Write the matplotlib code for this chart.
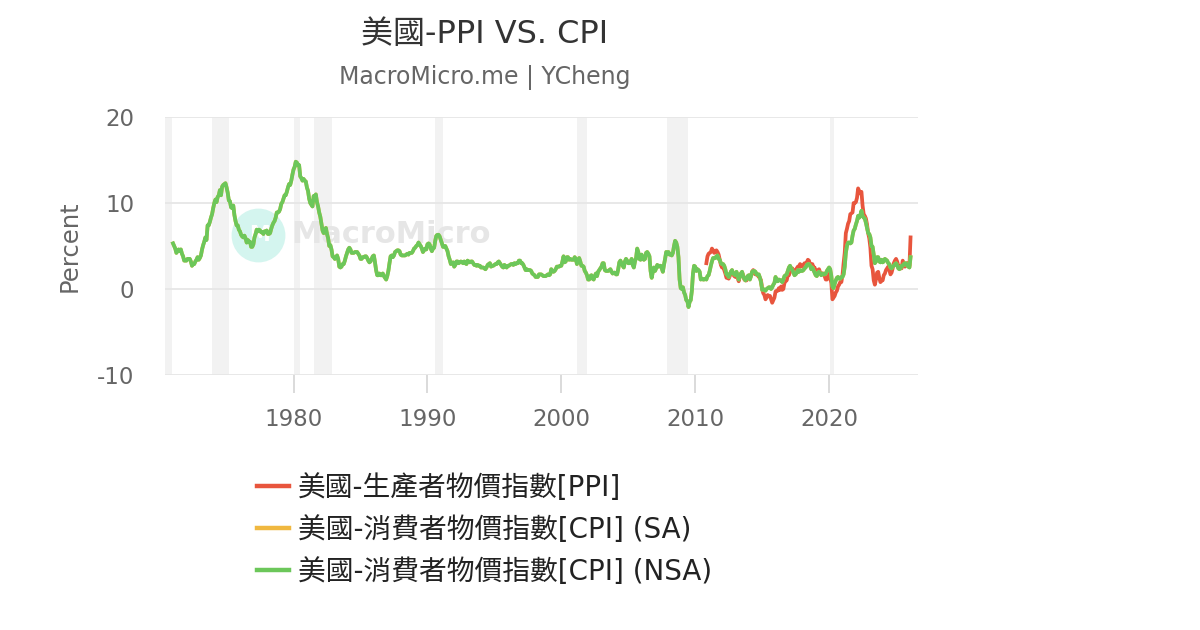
import numpy as np
import matplotlib.pyplot as plt
from matplotlib.lines import Line2D

plt.rcParams['font.family'] = ['DejaVu Sans', 'Noto Sans CJK TC']

# CPI YoY (NSA), mensual desde 1971-01
cpi_nsa = [
    5.3, 5.0, 4.7, 4.2, 4.4, 4.6, 4.4, 4.6, 4.1, 3.8, 3.3, 3.3,   # 1971
    3.3, 3.5, 3.5, 3.5, 3.2, 2.7, 2.9, 2.9, 3.2, 3.4, 3.7, 3.4,   # 1972
    3.6, 3.9, 4.6, 5.1, 5.5, 6.0, 5.7, 7.4, 7.4, 7.8, 8.3, 8.7,   # 1973
    9.4, 10.0, 10.4, 10.1, 10.7, 10.9, 11.5, 10.9, 11.9, 12.1, 12.2, 12.3,  # 1974
    11.8, 11.2, 10.3, 10.2, 9.5, 9.4, 9.7, 8.6, 7.9, 7.4, 7.4, 6.9,  # 1975
    6.7, 6.3, 6.1, 6.0, 6.2, 5.9, 5.4, 5.7, 5.5, 5.5, 4.9, 4.9,   # 1976
    5.2, 6.0, 6.4, 6.9, 6.7, 6.9, 6.8, 6.6, 6.6, 6.4, 6.7, 6.7,   # 1977
    6.8, 6.4, 6.4, 6.5, 7.0, 7.4, 7.7, 7.9, 8.3, 8.9, 8.9, 9.0,   # 1978
    9.3, 9.9, 10.1, 10.5, 10.9, 10.9, 11.3, 11.8, 12.2, 12.1, 12.6, 13.3,  # 1979
    13.9, 14.2, 14.8, 14.7, 14.4, 14.4, 13.1, 12.9, 12.6, 12.8, 12.6, 12.5,  # 1980
    11.8, 11.4, 10.5, 10.0, 9.8, 9.6, 10.8, 10.8, 11.0, 10.1, 9.6, 8.9,  # 1981
    8.4, 7.6, 6.8, 6.5, 6.7, 7.1, 6.4, 5.9, 5.0, 5.1, 4.6, 3.8,   # 1982
    3.7, 3.5, 3.6, 3.9, 3.5, 2.6, 2.5, 2.6, 2.9, 2.9, 3.3, 3.8,   # 1983
    4.2, 4.6, 4.8, 4.6, 4.2, 4.2, 4.2, 4.3, 4.3, 4.3, 4.1, 3.9,   # 1984
    3.5, 3.5, 3.7, 3.7, 3.8, 3.8, 3.6, 3.3, 3.1, 3.2, 3.5, 3.8,   # 1985
    3.9, 3.1, 2.2, 1.6, 1.6, 1.8, 1.6, 1.6, 1.8, 1.5, 1.3, 1.1,   # 1986
    1.5, 2.1, 3.0, 3.8, 3.9, 3.7, 3.9, 4.3, 4.4, 4.5, 4.5, 4.4,   # 1987
    4.0, 3.9, 3.9, 3.9, 3.9, 4.0, 4.1, 4.0, 4.2, 4.2, 4.2, 4.4,   # 1988
    4.7, 4.8, 5.0, 5.1, 5.4, 5.2, 5.0, 4.7, 4.3, 4.5, 4.7, 4.6,   # 1989
    5.2, 5.3, 5.2, 4.7, 4.4, 4.7, 4.8, 5.6, 6.2, 6.3, 6.3, 6.1,   # 1990
    5.7, 5.3, 4.9, 4.9, 5.0, 4.7, 4.4, 3.8, 3.4, 2.9, 3.0, 3.1,   # 1991
    2.6, 2.8, 3.2, 3.2, 3.0, 3.1, 3.2, 3.1, 3.0, 3.2, 3.0, 2.9,   # 1992
    3.3, 3.2, 3.1, 3.2, 3.2, 3.0, 2.8, 2.8, 2.7, 2.8, 2.7, 2.7,   # 1993
    2.5, 2.5, 2.5, 2.4, 2.3, 2.5, 2.8, 2.9, 3.0, 2.6, 2.7, 2.7,   # 1994
    2.8, 2.9, 2.9, 3.1, 3.2, 3.0, 2.8, 2.6, 2.5, 2.8, 2.6, 2.5,   # 1995
    2.7, 2.7, 2.8, 2.9, 2.9, 2.8, 3.0, 2.9, 3.0, 3.0, 3.3, 3.3,   # 1996
    3.0, 3.0, 2.8, 2.5, 2.2, 2.3, 2.2, 2.2, 2.2, 2.1, 1.8, 1.7,   # 1997
    1.6, 1.4, 1.4, 1.4, 1.7, 1.7, 1.7, 1.6, 1.5, 1.5, 1.5, 1.6,   # 1998
    1.7, 1.6, 1.7, 2.3, 2.1, 2.0, 2.1, 2.3, 2.6, 2.6, 2.6, 2.7,   # 1999
    2.7, 3.2, 3.8, 3.1, 3.2, 3.7, 3.7, 3.4, 3.5, 3.4, 3.4, 3.4,   # 2000
    3.7, 3.5, 2.9, 3.3, 3.6, 3.2, 2.7, 2.7, 2.6, 2.1, 1.9, 1.6,   # 2001
    1.1, 1.1, 1.5, 1.6, 1.2, 1.1, 1.5, 1.8, 1.5, 2.0, 2.2, 2.4,   # 2002
    2.6, 3.0, 3.0, 2.2, 2.1, 2.1, 2.1, 2.2, 2.3, 2.0, 1.8, 1.9,   # 2003
    1.9, 1.7, 1.7, 2.3, 3.1, 3.3, 3.0, 2.7, 2.5, 3.2, 3.5, 3.3,   # 2004
    3.0, 3.0, 3.1, 3.5, 2.8, 2.5, 3.2, 3.6, 4.7, 4.3, 3.5, 3.4,   # 2005
    4.0, 3.6, 3.4, 3.5, 4.2, 4.3, 4.1, 3.8, 2.1, 1.3, 2.0, 2.5,   # 2006
    2.1, 2.4, 2.8, 2.6, 2.7, 2.7, 2.4, 2.0, 2.8, 3.5, 4.3, 4.1,   # 2007
    4.3, 4.0, 4.0, 3.9, 4.2, 5.0, 5.6, 5.4, 4.9, 3.7, 1.1, 0.1,   # 2008
    0.0, 0.2, -0.4, -0.7, -1.3, -1.4, -2.1, -1.5, -1.3, -0.2, 1.8, 2.7,  # 2009
    2.6, 2.1, 2.3, 2.2, 2.0, 1.1, 1.2, 1.1, 1.1, 1.2, 1.1, 1.5,   # 2010
    1.6, 2.1, 2.7, 3.2, 3.6, 3.6, 3.6, 3.8, 3.9, 3.5, 3.4, 3.0,   # 2011
    2.9, 2.9, 2.7, 2.3, 1.7, 1.7, 1.4, 1.7, 2.0, 2.2, 1.8, 1.7,   # 2012
    1.6, 2.0, 1.5, 1.1, 1.4, 1.8, 2.0, 1.5, 1.2, 1.0, 1.2, 1.5,   # 2013
    1.6, 1.1, 1.5, 2.0, 2.1, 2.1, 2.0, 1.7, 1.7, 1.7, 1.3, 0.8,   # 2014
    -0.1, 0.0, -0.1, -0.2, 0.0, 0.1, 0.2, 0.2, 0.0, 0.2, 0.5, 0.7,  # 2015
    1.4, 1.0, 0.9, 1.1, 1.0, 1.0, 0.8, 1.1, 1.5, 1.6, 1.7, 2.1,   # 2016
    2.5, 2.7, 2.4, 2.2, 1.9, 1.6, 1.7, 1.9, 2.2, 2.0, 2.2, 2.1,   # 2017
    2.1, 2.2, 2.4, 2.5, 2.8, 2.9, 2.9, 2.7, 2.3, 2.5, 2.2, 1.9,   # 2018
    1.6, 1.5, 1.9, 2.0, 1.8, 1.6, 1.8, 1.7, 1.7, 1.8, 2.1, 2.3,   # 2019
    2.5, 2.3, 1.5, 0.3, 0.1, 0.6, 1.0, 1.3, 1.4, 1.2, 1.2, 1.4,   # 2020
    1.4, 1.7, 2.6, 4.2, 5.0, 5.4, 5.4, 5.3, 5.4, 6.2, 6.8, 7.0,   # 2021
    7.5, 7.9, 8.5, 8.3, 8.6, 9.1, 8.5, 8.3, 8.2, 7.7, 7.1, 6.5,   # 2022
    6.4, 6.0, 5.0, 4.9, 4.0, 3.0, 3.2, 3.7, 3.7, 3.2, 3.1, 3.4,   # 2023
    3.1, 3.2, 3.5, 3.4, 3.3, 3.0, 2.9, 2.5, 2.4, 2.6, 2.7, 2.9,   # 2024
    3.0, 2.8, 2.4, 2.3, 2.4, 2.7, 2.7, 2.9, 3.0, 3.0, 2.7, 2.6,   # 2025
    2.5, 3.7,                                                     # 2026
]
cpi_start = 1971

# CPI YoY (SA): casi igual a la NSA en variación anual
cpi_sa = list(cpi_nsa)

# PPI YoY (demanda final), mensual desde 2010-11
ppi = [
    3.0, 3.8,                                                     # 2010
    4.1, 4.2, 4.3, 4.7, 4.5, 4.2, 4.3, 4.5, 4.3, 4.0, 3.4, 2.8,   # 2011
    2.5, 2.6, 2.2, 1.8, 1.3, 1.3, 1.2, 1.5, 2.0, 2.1, 1.7, 1.5,   # 2012
    1.4, 1.7, 1.3, 0.9, 1.5, 1.8, 1.9, 1.6, 1.1, 1.0, 1.0, 1.3,   # 2013
    1.3, 1.4, 1.5, 2.0, 2.2, 1.8, 1.7, 1.7, 1.6, 1.4, 1.3, 1.0,   # 2014
    0.0, -0.5, -0.7, -1.2, -1.0, -0.7, -0.8, -0.8, -1.2, -1.6, -1.3, -1.0,  # 2015
    -0.3, -0.2, -0.2, 0.1, -0.1, 0.3, -0.1, 0.0, 0.7, 0.9, 1.0, 1.6,  # 2016
    1.6, 2.0, 2.3, 2.4, 2.2, 2.1, 2.0, 2.4, 2.6, 2.6, 2.9, 2.7,   # 2017
    2.6, 2.8, 3.0, 2.6, 3.1, 3.4, 3.3, 2.8, 2.6, 2.9, 2.5, 2.5,   # 2018
    2.0, 1.8, 2.2, 2.3, 1.9, 1.7, 1.8, 1.8, 1.5, 1.1, 1.1, 1.3,   # 2019
    2.1, 1.3, 0.7, -1.2, -1.0, -0.8, -0.4, -0.2, 0.3, 0.5, 0.8, 0.8,  # 2020
    1.6, 3.0, 4.2, 6.5, 7.0, 7.6, 7.9, 8.7, 8.8, 8.9, 10.0, 10.0,  # 2021
    10.1, 10.6, 11.7, 11.4, 11.1, 11.3, 9.7, 8.7, 8.5, 8.2, 7.5, 6.5,  # 2022
    5.9, 4.8, 2.7, 2.3, 1.0, 0.5, 1.1, 1.9, 2.0, 1.3, 0.8, 1.0,   # 2023
    1.0, 1.6, 1.8, 2.2, 2.4, 2.6, 2.2, 1.7, 1.9, 2.4, 3.0, 3.3,   # 2024
    3.5, 3.2, 2.7, 2.5, 2.7, 2.4, 3.3, 2.7, 2.6, 2.8, 3.0, 2.8,   # 2025
    2.7, 6.0,                                                     # 2026
]
ppi_start = 2010 + 10 / 12

# Recesiones (años decimales)
rec_inicio = [1969.9, 1973.9, 1980.0, 1981.5, 1990.55, 2001.2, 2007.9, 2020.05]
rec_fin = [1970.9, 1975.2, 1980.5, 1982.9, 1991.2, 2001.9, 2009.45, 2020.35]

x_ticks = [1980, 1990, 2000, 2010, 2020]
y_ticks = [-10, 0, 10, 20]

labels = ['美國-生產者物價指數[PPI]', '美國-消費者物價指數[CPI] (SA)', '美國-消費者物價指數[CPI] (NSA)']
colores = ['#e8553d', '#f0b840', '#6cc75a']

x_cpi = cpi_start + np.arange(len(cpi_nsa)) / 12
x_ppi = ppi_start + np.arange(len(ppi)) / 12

fig = plt.figure(figsize=(12, 6.3), dpi=100)
ax = fig.add_axes([165 / 1200, 1 - 375 / 630, 753 / 1200, 258 / 630])

for a, b in zip(rec_inicio, rec_fin):
    ax.axvspan(a, b, color='#f2f2f2', lw=0, zorder=0)

for yv in y_ticks:
    ax.axhline(yv, color='#e6e6e6', lw=1.3, zorder=1)

# marca de agua
ax.scatter([0.1235], [0.543], s=1500, color='#d4f5ef', transform=ax.transAxes, zorder=1, lw=0)
ax.text(0.125, 0.543, 'M', transform=ax.transAxes, color='white', fontsize=15, fontweight='bold',
        ha='center', va='center', zorder=1)
ax.text(0.168, 0.543, 'MacroMicro', transform=ax.transAxes, color='#e6e6e6', fontsize=22,
        fontweight='bold', ha='left', va='center', zorder=1)

ax.plot(x_ppi, ppi, color=colores[0], lw=2.7, zorder=3)
ax.plot(x_cpi, cpi_sa, color=colores[1], lw=2.7, zorder=4)
ax.plot(x_cpi, cpi_nsa, color=colores[2], lw=2.7, zorder=5)

ax.set_xlim(1970.4, 2026.64)
ax.set_ylim(-10, 20)
ax.set_xticks(x_ticks)
ax.set_yticks(y_ticks)
ax.set_yticklabels([str(v) for v in y_ticks])
for s in ax.spines.values():
    s.set_visible(False)
ax.tick_params(axis='x', length=13, width=1.3, color='#d8d8d8', labelsize=16.5, labelcolor='#666666', pad=11)
ax.tick_params(axis='y', length=0, labelsize=16.5, labelcolor='#666666', pad=22)
ax.set_ylabel('Percent', fontsize=17.5, color='#666666', labelpad=11)

fig.text(485 / 1200, 1 - 34 / 630, '美國-PPI VS. CPI', ha='center', va='center', fontsize=23, color='#333333')
fig.text(485 / 1200, 1 - 78 / 630, 'MacroMicro.me | YCheng', ha='center', va='center', fontsize=17, color='#666666')

handles = [Line2D([], [], color=c, lw=3.2) for c in colores]
fig.legend(handles, labels, loc='upper left', bbox_to_anchor=(257 / 1200, 1 - 474 / 630),
           frameon=False, fontsize=20, handlelength=1.15, handletextpad=0.33,
           labelspacing=0.5, borderpad=0, borderaxespad=0, labelcolor='#222222')

fig.savefig('out.png', dpi=100)
